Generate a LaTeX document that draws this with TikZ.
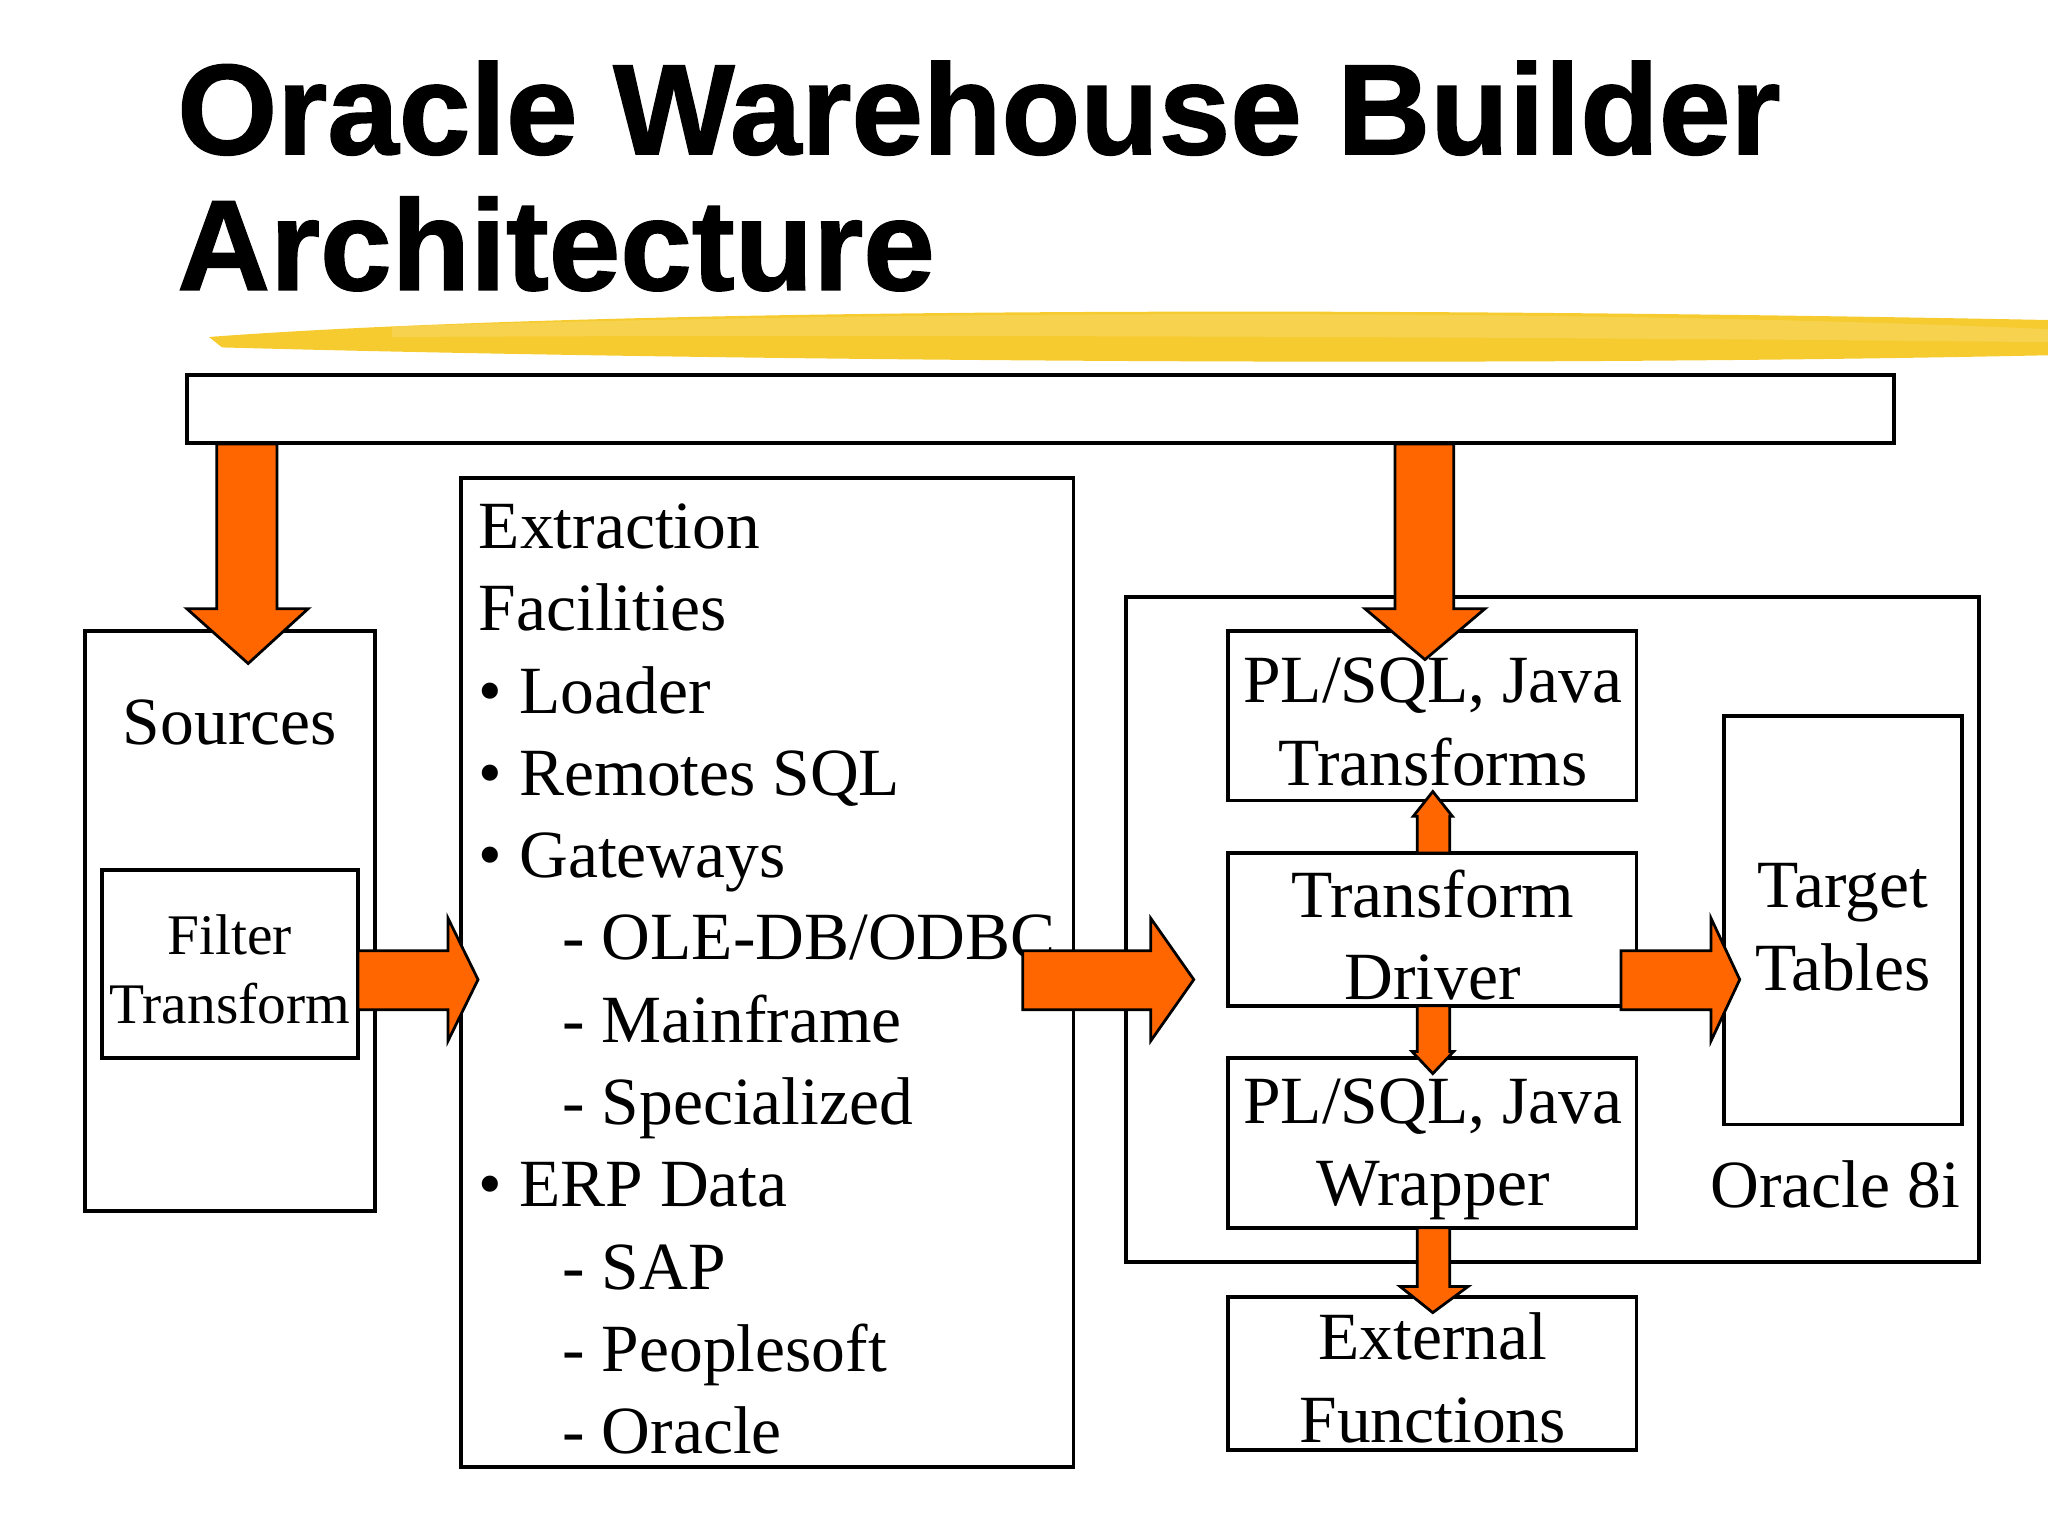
\documentclass[tikz,border=0pt]{standalone}
\usepackage{fontspec}
\setmainfont{Liberation Serif}
\newfontfamily\titlefont[FakeBold=1.2]{Liberation Sans}
\begin{document}
\begin{tikzpicture}[x=0.01cm,y=-0.01cm,
  box/.style={draw=black,line width=0.8pt,fill=none},
  blk/.style={draw=black,line width=0.6pt,fill=arrow,line join=miter},
  body/.style={font=\fontsize{14.7}{18}\selectfont,inner sep=0pt},
  lst/.style={body,anchor=base west}]
\definecolor{arrow}{HTML}{FF6600}
\definecolor{hl}{HTML}{F5C518}
\useasboundingbox (0,0) rectangle (1568,1176);
% title
\node[anchor=base west,inner sep=0pt,font=\titlefont\bfseries\fontsize{28}{32}\selectfont] (t1) at (135,118) {Oracle Warehouse Builder};
\node[anchor=base west,inner sep=0pt,font=\titlefont\bfseries\fontsize{28}{32}\selectfont] (t2) at (135,222) {Architecture};
% highlighter
\fill[hl,opacity=0.9] (160,258) .. controls (400,240) and (900,232) .. (1568,245) -- (1568,272) .. controls (1100,282) and (500,275) .. (170,266) -- cycle;
\fill[hl!70!white,opacity=0.7] (300,250) .. controls (700,238) and (1200,236) .. (1568,252) -- (1568,262) .. controls (1200,258) and (700,256) .. (300,258) -- cycle;
% boxes
\draw[box] (143,287) rectangle (1450,339);
\draw[box] (65,483) rectangle (287,927);
\node[body] (src) at (176,553) {Sources};
\draw[box] (78,666) rectangle (274,810);
\node[align=center,inner sep=0pt,font=\fontsize{12.5}{15}\selectfont] (ft) at (176,742) {Filter\\Transform};
\draw[box] (353,366) rectangle (822,1123);
\draw[box] (862,457) rectangle (1515,966);
\draw[box] (940,483) rectangle (1253,613);
\node[body,align=center] (pt) at (1097,553) {PL/SQL, Java\\Transforms};
\draw[box] (940,653) rectangle (1253,770);
\node[body,align=center] (td) at (1097,716) {Transform\\Driver};
\draw[box] (940,810) rectangle (1253,940);
\node[body,align=center] (pw) at (1097,880) {PL/SQL, Java\\Wrapper};
\draw[box] (1320,548) rectangle (1502,861);
\node[body,align=center] (tt) at (1411,710) {Target\\Tables};
\node[body] (o8) at (1405,907) {Oracle 8i};
\draw[box] (940,993) rectangle (1253,1110);
\node[body,align=center] (ef) at (1097,1055) {External\\Functions};
% extraction list
\node[lst] (e1) at (366,420) {Extraction};
\node[lst] (e2) at (366,483) {Facilities};
\node[lst] (e3) at (366,546) {\textbullet\ Loader};
\node[lst] (e4) at (366,609) {\textbullet\ Remotes SQL};
\node[lst] (e5) at (366,672) {\textbullet\ Gateways};
\node[lst] (e6) at (430,735) {- OLE-DB/ODBC};
\node[lst] (e7) at (430,798) {- Mainframe};
\node[lst] (e8) at (430,861) {- Specialized};
\node[lst] (e9) at (366,924) {\textbullet\ ERP Data};
\node[lst] (e10) at (430,987) {- SAP};
\node[lst] (e11) at (430,1050) {- Peoplesoft};
\node[lst] (e12) at (430,1113) {- Oracle};
% big arrows
\filldraw[blk] (166,340) -- (212,340) -- (212,466) -- (236,466) -- (190,508) -- (143,466) -- (166,466) -- cycle;
\filldraw[blk] (1068,340) -- (1113,340) -- (1113,466) -- (1137,466) -- (1091,505) -- (1045,466) -- (1068,466) -- cycle;
\filldraw[blk] (274,728) -- (343,728) -- (343,703) -- (366,750) -- (343,797) -- (343,773) -- (274,773) -- cycle;
\filldraw[blk] (783,728) -- (881,728) -- (881,703) -- (914,750) -- (881,797) -- (881,773) -- (783,773) -- cycle;
\filldraw[blk] (1241,728) -- (1310,728) -- (1310,703) -- (1332,750) -- (1310,797) -- (1310,773) -- (1241,773) -- cycle;
% small arrows
\filldraw[blk] (1085,653) -- (1085,625) -- (1082,625) -- (1097,606) -- (1112,625) -- (1110,625) -- (1110,653) -- cycle;
\filldraw[blk] (1085,770) -- (1085,805) -- (1081,805) -- (1097,822) -- (1113,805) -- (1110,805) -- (1110,770) -- cycle;
\filldraw[blk] (1085,940) -- (1085,985) -- (1072,985) -- (1097,1005) -- (1124,985) -- (1110,985) -- (1110,940) -- cycle;
\end{tikzpicture}
\end{document}
